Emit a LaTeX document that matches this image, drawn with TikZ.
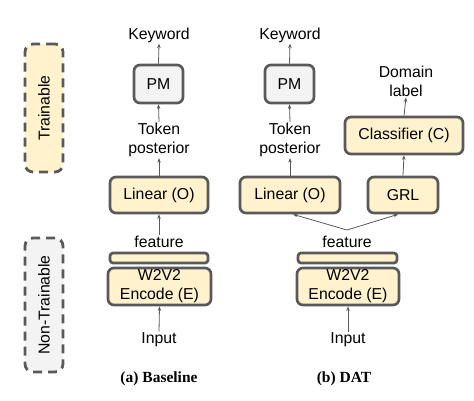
\documentclass[tikz,border=0pt]{standalone}
\usepackage{fontspec}
\setmainfont{Liberation Sans}
\newfontfamily\capfont{Liberation Serif}
\usetikzlibrary{arrows.meta}
\definecolor{yfill}{HTML}{FFF2CC}
\definecolor{gfill}{HTML}{F3F3F3}
\definecolor{edge}{HTML}{595959}
\begin{document}
\begin{tikzpicture}[x=1pt,y=-1pt,
  blk/.style={draw=edge,line width=2.7pt,rounded corners=6pt,fill=yfill,inner sep=0pt,align=center,font=\fontsize{15.8}{19}\selectfont},
  graybox/.style={blk,fill=gfill},
  lbl/.style={inner sep=1pt,align=center,font=\fontsize{15.8}{19}\selectfont},
  captext/.style={inner sep=0pt,font=\capfont\bfseries\fontsize{15.5}{19}\selectfont},
  legend/.style={draw=edge,line width=2.8pt,dash pattern=on 9pt off 6pt,rounded corners=8pt,inner sep=0pt},
  arr/.style={draw=edge,line width=0.8pt,-{Stealth[length=4.5pt,width=3.5pt]}}]
\useasboundingbox (0,0) rectangle (474,400);
% legend
\node[legend,fill=yfill,minimum width=38pt,minimum height=128pt] (tr) at (44,108) {};
\node[lbl,rotate=90] (trt) at (tr.center) {Trainable};
\node[legend,fill=gfill,minimum width=38pt,minimum height=134pt] (ntr) at (44,305) {};
\node[lbl,rotate=90] (ntrt) at (ntr.center) {Non-Trainable};
% baseline
\node[lbl] (kw1) at (159,35) {Keyword};
\node[graybox,minimum width=49pt,minimum height=38pt] (pm1) at (158.5,84) {PM};
\node[lbl] (tp1) at (159,140) {Token\\posterior};
\node[blk,minimum width=98pt,minimum height=36pt] (lin1) at (159,195) {Linear (O)};
\node[lbl] (ft1) at (159,242) {feature};
\node[blk,minimum width=98pt,minimum height=10pt,rounded corners=3pt] (bar1) at (159,258) {};
\node[blk,minimum width=103pt,minimum height=37pt] (enc1) at (159.5,286.5) {W2V2\\Encode (E)};
\node[lbl] (in1) at (159,340) {Input};
\node[captext] (cap1) at (159,379) {(a) Baseline};
\draw[arr] (pm1.north) -- (kw1.south);
\draw[arr] (tp1.north) -- (pm1.south);
\draw[arr] (lin1.north) -- (tp1.south);
\draw[arr] (ft1.north) -- (lin1.south);
\draw[arr] (in1.north) -- (enc1.south);
% DAT
\node[lbl] (kw2) at (290,35) {Keyword};
\node[graybox,minimum width=49pt,minimum height=38pt] (pm2) at (289.5,84) {PM};
\node[lbl] (tp2) at (290,140) {Token\\posterior};
\node[blk,minimum width=100pt,minimum height=36pt] (lin2) at (290,195) {Linear (O)};
\node[lbl] (dl) at (406,81) {Domain\\label};
\node[blk,minimum width=118pt,minimum height=37pt] (cls) at (404,135.5) {Classifier (C)};
\node[blk,minimum width=70pt,minimum height=36pt] (grl) at (403,195) {GRL};
\node[lbl] (ft2) at (347,242) {feature};
\coordinate (apex) at (347,230);
\node[blk,minimum width=99pt,minimum height=10pt,rounded corners=3pt] (bar2) at (347.5,258) {};
\node[blk,minimum width=102pt,minimum height=37pt] (enc2) at (348,286.5) {W2V2\\Encode (E)};
\node[lbl] (in2) at (348,340) {Input};
\node[captext] (cap2) at (344,379) {(b) DAT};
\draw[arr] (pm2.north) -- (kw2.south);
\draw[arr] (tp2.north) -- (pm2.south);
\draw[arr] (lin2.north) -- (tp2.south);
\draw[arr] (apex) -- ([xshift=3pt]lin2.south);
\draw[arr] (apex) -- ([xshift=-5pt]grl.south);
\draw[arr] (grl.north) -- (cls.south);
\draw[arr] (cls.north) -- (dl.south);
\draw[arr] (in2.north) -- (enc2.south);
\end{tikzpicture}
\end{document}
